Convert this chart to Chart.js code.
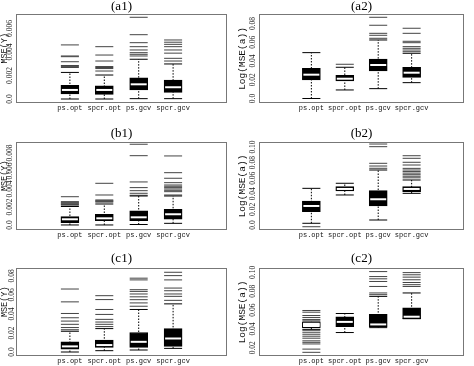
<!DOCTYPE html>
<html>
<head>
<meta charset="utf-8">
<script src="https://cdn.jsdelivr.net/npm/chart.js@4.4.1/dist/chart.umd.min.js"></script>
<style>
  body { margin: 0; background: #fff; width: 474px; height: 366px; position: relative; overflow: hidden; }
  canvas { position: absolute; }
</style>
</head>
<body>
<canvas id="a1" width="237" height="122" style="left:0;top:0"></canvas>
<canvas id="a2" width="237" height="122" style="left:237px;top:0"></canvas>
<canvas id="b1" width="237" height="122" style="left:0;top:122px"></canvas>
<canvas id="b2" width="237" height="122" style="left:237px;top:122px"></canvas>
<canvas id="c1" width="237" height="122" style="left:0;top:244px"></canvas>
<canvas id="c2" width="237" height="122" style="left:237px;top:244px"></canvas>
<script>
const categories = ['ps.opt', 'spcr.opt', 'ps.gcv', 'spcr.gcv'];

// (a1) MSE(Y)
const a1Low  = [0.00000, 0.00000, 0.00003, 0.00003];
const a1Q1   = [0.00043, 0.00040, 0.00077, 0.00057];
const a1Med  = [0.00077, 0.00077, 0.00125, 0.00100];
const a1Q3   = [0.00117, 0.00111, 0.00181, 0.00162];
const a1High = [0.00226, 0.00204, 0.00338, 0.00298];
const a1Out = [
  [0.00460, 0.00366, 0.00360, 0.00317, 0.00285, 0.00277, 0.00268],
  [0.00445, 0.00374, 0.00323, 0.00276, 0.00268, 0.00259, 0.00238],
  [0.00695, 0.00547, 0.00479, 0.00445, 0.00417, 0.00394, 0.00380, 0.00366],
  [0.00502, 0.00483, 0.00465, 0.00445, 0.00417, 0.00390, 0.00346, 0.00323]
];
const a1Ticks = [0, 0.002, 0.004, 0.006];
const a1TickLabels = ['0.0', '0.002', '0.004', '0.006'];

// (a2) Log(MSE(a))
const a2Low  = [0.0000, 0.0091, 0.0105, 0.0169];
const a2Q1   = [0.0197, 0.0187, 0.0293, 0.0226];
const a2Med  = [0.0254, 0.0211, 0.0357, 0.0275];
const a2Q3   = [0.0322, 0.0247, 0.0421, 0.0333];
const a2High = [0.0489, 0.0333, 0.0624, 0.0482];
const a2Out = [
  [],
  [0.0365],
  [0.0866, 0.0781, 0.0695, 0.0674, 0.0642],
  [0.0749, 0.0695, 0.0610, 0.0595, 0.0553, 0.0535, 0.0517, 0.0499]
];
const a2Ticks = [0, 0.02, 0.04, 0.06, 0.08];
const a2TickLabels = ['0.0', '0.02', '0.04', '0.06', '0.08'];

// (b1) MSE(Y)
const b1Low  = [0.00000, 0.00000, 0.00005, 0.00018];
const b1Q1   = [0.00026, 0.00048, 0.00048, 0.00063];
const b1Med  = [0.00063, 0.00074, 0.00085, 0.00119];
const b1Q3   = [0.00092, 0.00119, 0.00156, 0.00174];
const b1High = [0.00205, 0.00233, 0.00322, 0.00322];
const b1Out = [
  [0.00314, 0.00259, 0.00252, 0.00244, 0.00236, 0.00228, 0.00220],
  [0.00463, 0.00333, 0.00278, 0.00270, 0.00262, 0.00254],
  [0.00897, 0.00770, 0.00478, 0.00415, 0.00381, 0.00352, 0.00330],
  [0.00767, 0.00581, 0.00519, 0.00470, 0.00444, 0.00430, 0.00415, 0.00400, 0.00385, 0.00370, 0.00333]
];
const b1Ticks = [0, 0.002, 0.004, 0.006, 0.008];
const b1TickLabels = ['0.0', '0.002', '0.004', '0.006', '0.008'];

// (b2) Log(MSE(a))
const b2Low  = [0.0022, 0.0385, 0.0064, 0.0406];
const b2Q1   = [0.0171, 0.0436, 0.0244, 0.0427];
const b2Med  = [0.0244, 0.0462, 0.0330, 0.0462];
const b2Q3   = [0.0308, 0.0491, 0.0440, 0.0491];
const b2High = [0.0470, 0.0535, 0.0705, 0.0577];
const b2Out = [
  [-0.0022],
  [],
  [0.1038, 0.1004, 0.0791, 0.0756, 0.0727],
  [0.0888, 0.0855, 0.0804, 0.0769, 0.0726, 0.0705, 0.0685, 0.0665, 0.0645, 0.0625, 0.0605]
];
const b2Ticks = [0, 0.02, 0.04, 0.06, 0.08, 0.10];
const b2TickLabels = ['0.0', '0.02', '0.04', '0.06', '0.08', '0.10'];

// (c1) MSE(Y)
const c1Low  = [0.0000, 0.0014, 0.0021, 0.0038];
const c1Q1   = [0.0031, 0.0049, 0.0049, 0.0059];
const c1Med  = [0.0059, 0.0073, 0.0107, 0.0142];
const c1Q3   = [0.0107, 0.0125, 0.0205, 0.0246];
const c1High = [0.0218, 0.0246, 0.0447, 0.0506];
const c1Out = [
  [0.0662, 0.0527, 0.0405, 0.0360, 0.0325, 0.0291, 0.0257, 0.0234],
  [0.0592, 0.0551, 0.0447, 0.0395, 0.0343, 0.0315, 0.0291, 0.0267],
  [0.0776, 0.0758, 0.0655, 0.0637, 0.0610, 0.0580, 0.0550, 0.0516, 0.0481],
  [0.0838, 0.0803, 0.0758, 0.0672, 0.0644, 0.0610, 0.0585, 0.0543]
];
const c1Ticks = [0, 0.02, 0.04, 0.06, 0.08];
const c1TickLabels = ['0.0', '0.02', '0.04', '0.06', '0.08'];

// (c2) Log(MSE(a))
const c2Low  = [0.0396, 0.0362, 0.0414, 0.0509];
const c2Q1   = [0.0414, 0.0425, 0.0425, 0.0509];
const c2Med  = [0.0445, 0.0475, 0.0448, 0.0530];
const c2Q3   = [0.0473, 0.0530, 0.0554, 0.0624];
const c2High = [0.0484, 0.0564, 0.0746, 0.0782];
const c2Out = [
  [0.0596, 0.0578, 0.0543, 0.0522, 0.0501, 0.0386, 0.0365, 0.0344, 0.0323, 0.0302, 0.0274, 0.0258, 0.0241, 0.0186, 0.0152],
  [],
  [0.1009, 0.0956, 0.0932, 0.0904, 0.0851, 0.0782, 0.0764],
  [0.0998, 0.0975, 0.0950, 0.0922, 0.0893, 0.0870, 0.0851]
];
const c2Ticks = [0.02, 0.04, 0.06, 0.08, 0.10];
const c2TickLabels = ['0.02', '0.04', '0.06', '0.08', '0.10'];

const framePlugin = {
  id: 'frame',
  afterDatasetsDraw(chart) {
    const a = chart.chartArea, ctx = chart.ctx;
    ctx.save();
    ctx.strokeStyle = '#777';
    ctx.lineWidth = 1;
    ctx.strokeRect(Math.round(a.left) + 0.5, Math.round(a.top) + 0.5,
                   Math.round(a.right - a.left) - 1, Math.round(a.bottom - a.top) - 1);
    ctx.restore();
  }
};

function disegnaBoxplot(id, p) {
  const whisk = [], caps = [], outs = [], meds = [], boxes = [];
  for (let i = 0; i < categories.length; i++) {
    const x = i + 1;
    whisk.push({x: x, y: p.low[i]}, {x: x, y: p.high[i]}, {x: x, y: null});
    caps.push({x: x, y: p.low[i]}, {x: x, y: p.high[i]});
    boxes.push({x: x, y: [p.q1[i], p.q3[i]]});
    meds.push({x: x, y: p.med[i]});
    p.out[i].forEach(v => outs.push({x: x, y: v}));
  }
  const right = p.col === 1;

  new Chart(document.getElementById(id), {
    type: 'bar',
    data: {
      datasets: [
        { type: 'line', data: whisk, borderColor: '#000', borderWidth: 1, borderDash: [1.5, 1.5],
          pointRadius: 0, spanGaps: false, order: 4 },
        { type: 'bar', data: boxes, backgroundColor: p.boxFill || '#000', borderColor: '#000',
          borderWidth: 1, borderSkipped: false, barThickness: 18, order: 3 },
        { type: 'scatter', data: caps, pointStyle: 'line', pointRadius: 9, borderColor: '#000',
          borderWidth: 1, order: 2 },
        { type: 'scatter', data: outs, pointStyle: 'line', pointRadius: 9, borderColor: '#444',
          borderWidth: 1, order: 2 },
        { type: 'scatter', data: meds, pointStyle: 'line', pointRadius: 8, borderColor: '#fff',
          borderWidth: 2, order: 1 }
      ]
    },
    options: {
      responsive: false,
      animation: false,
      events: [],
      layout: { padding: { left: 0, right: right ? 2 : 5, top: 0, bottom: 0 } },
      plugins: {
        legend: { display: false },
        tooltip: { enabled: false },
        title: {
          display: true, text: p.title, fullSize: false, color: '#000',
          font: { family: 'Liberation Serif', size: 13, weight: 'normal', lineHeight: 1 },
          padding: p.titlePad
        }
      },
      scales: {
        x: {
          type: 'linear', min: 0.2, max: 4.8,
          grid: { display: false, drawTicks: false },
          border: { display: false },
          afterBuildTicks: s => { s.ticks = categories.map((c, i) => ({ value: i + 1 })); },
          afterFit: s => { s.height = p.xHeight; },
          ticks: {
            autoSkip: false, maxRotation: 0, padding: 1, color: '#111',
            font: { family: 'Liberation Mono', size: 7 },
            callback: v => categories[v - 1]
          }
        },
        y: {
          min: p.yMin, max: p.yMax,
          grid: { display: false, drawTicks: false },
          border: { display: false },
          afterBuildTicks: s => { s.ticks = p.ticks.map(v => ({ value: v })); },
          afterFit: s => { s.width = right ? 22 : 16; },
          ticks: {
            autoSkip: false, minRotation: 90, maxRotation: 90, crossAlign: 'center',
            padding: right ? -0.6 : -2.9, color: '#222',
            font: { family: 'Liberation Serif', size: 7.5 },
            callback: v => p.tickLabels[p.ticks.indexOf(v)]
          },
          title: {
            display: true, text: p.yTitle, color: '#111',
            font: { family: 'Liberation Mono', size: right ? 9.5 : 8.5, lineHeight: 1 },
            padding: { top: right ? 1.2 : 0.3, bottom: 0 }
          }
        }
      }
    },
    plugins: [framePlugin]
  });
}

const rowA = { titlePad: { top: 0.5, bottom: 0.5 }, xHeight: 19 };
const rowB = { titlePad: { top: 5, bottom: 2 }, xHeight: 14 };
const rowC = { titlePad: { top: 8.5, bottom: 2.5 }, xHeight: 9 };

// the left-hand y titles sit above the panel middle; leading spaces push them up
const leftTitle = '    MSE(Y)';

disegnaBoxplot('a1', Object.assign({ col: 0, title: '(a1)', yTitle: leftTitle, yMin: -0.00034, yMax: 0.00723,
  ticks: a1Ticks, tickLabels: a1TickLabels,
  low: a1Low, q1: a1Q1, med: a1Med, q3: a1Q3, high: a1High, out: a1Out }, rowA));
disegnaBoxplot('a2', Object.assign({ col: 1, title: '(a2)', yTitle: 'Log(MSE(a))', yMin: -0.0048, yMax: 0.0901,
  ticks: a2Ticks, tickLabels: a2TickLabels,
  low: a2Low, q1: a2Q1, med: a2Med, q3: a2Q3, high: a2High, out: a2Out }, rowA));
disegnaBoxplot('b1', Object.assign({ col: 0, title: '(b1)', yTitle: leftTitle, yMin: -0.00056, yMax: 0.00922,
  ticks: b1Ticks, tickLabels: b1TickLabels,
  low: b1Low, q1: b1Q1, med: b1Med, q3: b1Q3, high: b1High, out: b1Out }, rowB));
disegnaBoxplot('b2', Object.assign({ col: 1, title: '(b2)', yTitle: 'Log(MSE(a))', yMin: -0.0064, yMax: 0.1064,
  ticks: b2Ticks, tickLabels: b2TickLabels,
  low: b2Low, q1: b2Q1, med: b2Med, q3: b2Q3, high: b2High, out: b2Out }, rowB));
disegnaBoxplot('c1', Object.assign({ col: 0, title: '(c1)', yTitle: leftTitle, yMin: -0.0042, yMax: 0.0883,
  ticks: c1Ticks, tickLabels: c1TickLabels,
  low: c1Low, q1: c1Q1, med: c1Med, q3: c1Q3, high: c1High, out: c1Out }, rowC));
disegnaBoxplot('c2', Object.assign({ col: 1, title: '(c2)', yTitle: 'Log(MSE(a))', yMin: 0.0113, yMax: 0.1047,
  ticks: c2Ticks, tickLabels: c2TickLabels,
  boxFill: ['#fff', '#000', '#000', '#000'],
  low: c2Low, q1: c2Q1, med: c2Med, q3: c2Q3, high: c2High, out: c2Out }, rowC));
</script>
</body>
</html>
